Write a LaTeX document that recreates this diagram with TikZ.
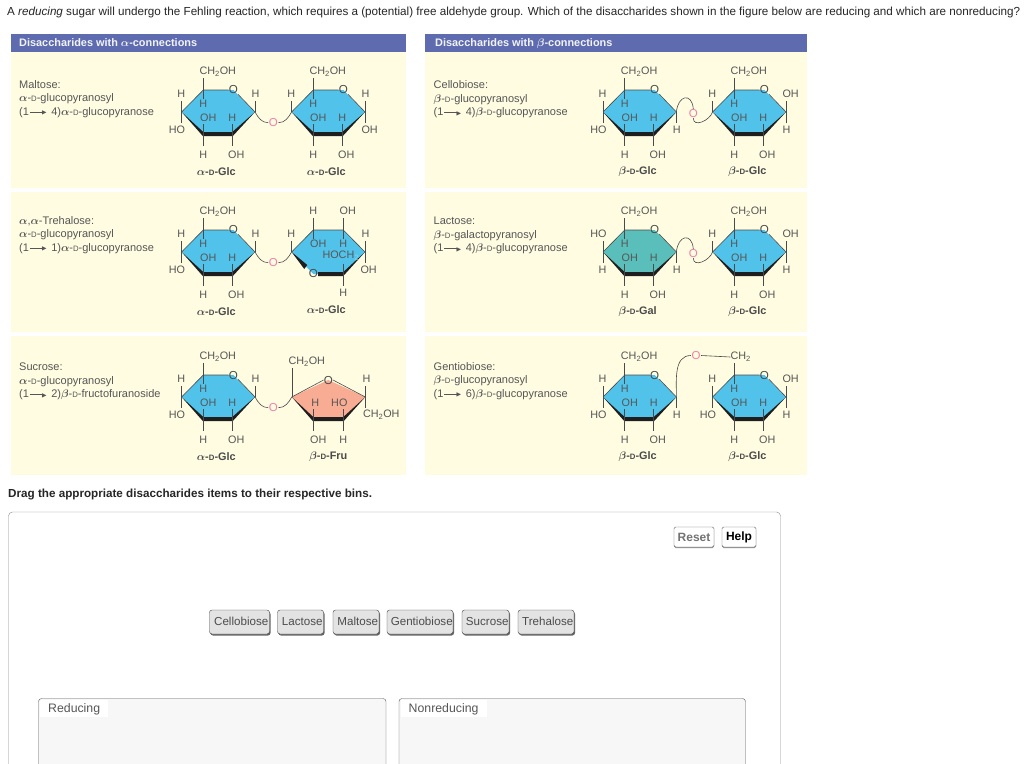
\documentclass[tikz,border=0pt]{standalone}
\usepackage{amsmath, amssymb}
\usepackage{xcolor}
\usepackage{fontspec}
\setmainfont{Liberation Sans}
\usepackage{tikz}
\usetikzlibrary{shadows}
\definecolor{panelyellow}{HTML}{FFFCE1}
\definecolor{headblue}{HTML}{5E6CAF}
\definecolor{glcblue}{HTML}{51C3EB}
\definecolor{galteal}{HTML}{5ABFBA}
\definecolor{frusalmon}{HTML}{F8AC93}
\definecolor{linkpink}{HTML}{F07FA8}
\definecolor{bondgrey}{HTML}{4A4A4A}
\definecolor{labelgrey}{HTML}{565656}
\newcommand{\smallD}{{\fontsize{7.8}{9}\selectfont D}}
\newcommand{\chainCH}{CH\textsubscript{2}}
\newcommand{\chainOH}{CH\textsubscript{2}OH}
\newcommand{\alphaL}{{\boldmath$\alpha$}}
\newcommand{\betaL}{{\boldmath$\beta$}}
\newcommand{\bondarrow}{\kern1pt\rule[3pt]{14pt}{0.7pt}\kern-2.5pt\raisebox{0.5pt}{\fontsize{6.5}{6.5}\selectfont$\blacktriangleright$}\kern4pt}
\newcommand{\sidelabel}[5]{\if\relax\detokenize{#5}\relax\else
	\draw[bond] (#1) -- ++(0,#2);
	\node at (#3) (#1x) [atom, anchor=#4] {#5};\fi}
\newcommand{\sugarring}[9]{
	\begin{scope}[shift={(#2)}]
		\coordinate (#1l) at (-36.7,0);
		\coordinate (#1tl) at (-15,-22);
		\coordinate (#1r) at (36.7,0);
		\coordinate (#1br) at (14,22);
		\coordinate (#1bl) at (-15,22);
		\fill[#3] (#1l) -- (#1tl) -- (15,-22) -- (#1r) -- (#1br) -- (#1bl) -- cycle;
		\node at (15,-22) (#1o) [ringo] {O};
		\draw[bond] (#1l) -- (#1tl) -- (#1o.west);
		\draw[bond] (#1o.south east) -- (#1r);
		\fill[bondgrey!40!black] (#1l) -- (-15.5,24) -- (14.5,24) -- (#1r) -- (14,20) -- (-15,20) -- cycle;
		\draw[bond] (#1tl) -- ++(0,-12);
		\draw[bond] (#1tl) -- ++(0,9);
		\draw[bond] (#1bl) -- ++(0,-10);
		\draw[bond] (#1bl) -- ++(0,12);
		\draw[bond] (#1br) -- ++(0,-10);
		\draw[bond] (#1br) -- ++(0,12);
		\sidelabel{#1l}{-11}{-33,-18}{east}{#4}
		\sidelabel{#1l}{11}{-33,18}{east}{#5}
		\sidelabel{#1r}{-11}{33,-18}{west}{#6}
		\sidelabel{#1r}{11}{33,18}{west}{#7}
		\node at (-19,-40) (#1top) [atom, anchor=west] {#9};
		\node at (-15,-8) (#1ih) [atom] {H};
		\node at (-10,5.7) (#1ioh) [atom] {OH};
		\node at (14,5.7) (#1jh) [atom] {H};
		\node at (-15,43) (#1bh) [atom] {H};
		\node at (18,43) (#1boh) [atom] {OH};
		\node at (-2,59.5) (#1name) [caption] {#8};
	\end{scope}
}
\begin{document}
\begin{tikzpicture}[x=1pt,
				y=-1pt,
				panel/.style={fill=panelyellow},
				head/.style={fill=headblue},
				headtext/.style={anchor=west, inner sep=0pt, text height=8pt, text depth=2pt, font=\fontsize{10.9}{12}\selectfont\bfseries, text=white!92!headblue},
				sugartext/.style={anchor=west, align=left, inner sep=0pt, text=labelgrey, font=\fontsize{11}{13.4}\selectfont},
				bond/.style={draw=bondgrey, line width=0.6pt},
				atom/.style={inner sep=0pt, text=labelgrey, font=\fontsize{10.8}{12}\selectfont},
				ringo/.style={inner sep=0pt, text=bondgrey, font=\fontsize{11.6}{12}\selectfont},
				caption/.style={inner sep=0pt, text=bondgrey, font=\fontsize{10.9}{12}\selectfont\bfseries},
				linko/.style={inner sep=0.4pt, text=linkpink, font=\fontsize{11.5}{12}\selectfont},
				itembox/.style={draw=black!75, fill=black!11, rounded corners=2.5pt, minimum height=24pt, inner sep=0pt, text height=9pt, text depth=2.5pt, text=black!70, font=\fontsize{11.6}{13}\selectfont, execute at begin node=\hspace*{3.5pt}, drop shadow={shadow xshift=1pt, shadow yshift=-1.5pt, fill=black!60, opacity=1}},
				toolbox/.style={draw=black!60, fill=white, rounded corners=1.5pt, minimum height=20pt, inner sep=0pt, font=\fontsize{12}{14}\selectfont\bfseries, drop shadow={shadow xshift=0pt, shadow yshift=-1pt, fill=black!45, opacity=1}},
				binbox/.style={draw=black!65, fill=black!3, rounded corners=3pt},
				bintext/.style={anchor=north west, inner ysep=2.5pt, inner xsep=0pt, text=labelgrey, font=\fontsize{12.3}{14}\selectfont}]
	\useasboundingbox (0,0) rectangle (1024,763);
	\clip (0,0) rectangle (1024,763);
	\fill[white] (0,0) rectangle (1024,763);
	\node at (7,12) (intro) [anchor=west, inner sep=0pt, text=black!85, font=\fontsize{11.67}{13}\selectfont] {A \textit{reducing} sugar will undergo the Fehling reaction, which requires a (potential) free aldehyde group. Which of the disaccharides shown in the figure below are reducing and which are nonreducing?};
	\foreach \xa/\xb in {11/406, 425/807} {
		\fill[head] (\xa,34) rectangle (\xb,52);
		\fill[panel] (\xa,52) rectangle (\xb,188);
		\fill[panel] (\xa,192) rectangle (\xb,332);
		\fill[panel] (\xa,336) rectangle (\xb,475);
	}
	\node at (19,43.5) (heada) [headtext] {Disaccharides with \alphaL-connections};
	\node at (435,43.5) (headb) [headtext] {Disaccharides with \betaL-connections};
	\node at (19,99) (maltose) [sugartext] {Maltose:\\\alphaL-\smallD-glucopyranosyl\\(1\bondarrow4)\alphaL-\smallD-glucopyranose};
	\node at (19,235) (trehalose) [sugartext] {\alphaL,\alphaL-Trehalose:\\\alphaL-\smallD-glucopyranosyl\\(1\bondarrow1)\alphaL-\smallD-glucopyranose};
	\node at (19,381.5) (sucrose) [sugartext] {Sucrose:\\\alphaL-\smallD-glucopyranosyl\\(1\bondarrow2)\betaL-\smallD-fructofuranoside};
	\node at (433.5,99.5) (cellobiose) [sugartext] {Cellobiose:\\\betaL-\smallD-glucopyranosyl\\(1\bondarrow4)\betaL-\smallD-glucopyranose};
	\node at (433.5,235.5) (lactose) [sugartext] {Lactose:\\\betaL-\smallD-galactopyranosyl\\(1\bondarrow4)\betaL-\smallD-glucopyranose};
	\node at (433.5,381) (gentiobiose) [sugartext] {Gentiobiose:\\\betaL-\smallD-glucopyranosyl\\(1\bondarrow6)\betaL-\smallD-glucopyranose};
	\sugarring{ma}{218.3,112}{glcblue}{H}{HO}{H}{}{\alphaL-\smallD-Glc}{\chainOH}
	\sugarring{mb}{328.3,112}{glcblue}{H}{}{H}{OH}{\alphaL-\smallD-Glc}{\chainOH}
	\node at (273.3,122.7) (mo) [linko] {O};
	\draw[bond] (mar) to [out=-60,in=180] (mo.west);
	\draw[bond] (mo.east) to [out=0,in=-120] (mbl);
	\sugarring{ta}{218.3,252}{glcblue}{H}{HO}{H}{}{\alphaL-\smallD-Glc}{\chainOH}
	\begin{scope}[shift={(328.3,252)}]
		\coordinate (tbl) at (-36.7,0);
		\coordinate (tbtl) at (-15,-22);
		\coordinate (tbtr) at (15,-22);
		\coordinate (tbr) at (36.7,0);
		\coordinate (tbbr) at (15,22);
		\fill[glcblue] (tbl) -- (tbtl) -- (tbtr) -- (tbr) -- (tbbr) -- (-15,22) -- cycle;
		\node at (-15,22) (tbo) [ringo] {O};
		\draw[bond] (tbl) -- (tbtl) -- (tbtr) -- (tbr);
		\fill[bondgrey!40!black] (tbl) -- (-21,13) -- (-24,17) -- cycle;
		\fill[bondgrey!40!black] (tbo.east) ++(0,-2) -- ++(0,4) -- (15,24) -- (tbr) -- (15,20) -- cycle;
		\draw[bond] (tbtl) -- ++(0,-12);
		\draw[bond] (tbtl) -- ++(0,9);
		\draw[bond] (tbtr) -- ++(0,-12);
		\draw[bond] (tbtr) -- ++(0,9);
		\draw[bond] (tbbr) -- ++(0,-10);
		\draw[bond] (tbbr) -- ++(0,12);
		\sidelabel{tbl}{-11}{-33,-18}{east}{H}
		\sidelabel{tbr}{-11}{33,-18}{west}{H}
		\sidelabel{tbr}{11}{32,18}{west}{OH}
		\node at (-15,-41) (tbth) [atom] {H};
		\node at (19.5,-41) (tbtoh) [atom] {OH};
		\node at (-10,-8) (tbioh) [atom] {OH};
		\node at (15,-8) (tbih) [atom] {H};
		\node at (-6,4) (tbhoch) [atom, anchor=west] {HOCH\textsubscript{\textcolor{glcblue!70!white}{2}}};
		\node at (15,41) (tbbh) [atom] {H};
		\node at (-2,58) (tbname) [caption] {\alphaL-\smallD-Glc};
	\end{scope}
	\node at (273.3,262.7) (to) [linko] {O};
	\draw[bond] (tar) to [out=-60,in=180] (to.west);
	\draw[bond] (to.east) to [out=0,in=-120] (tbl);
	\sugarring{sa}{218.3,397}{glcblue}{H}{HO}{H}{}{\alphaL-\smallD-Glc}{\chainOH}
	\begin{scope}[shift={(328.3,397)}]
		\coordinate (sbl) at (-36.5,0);
		\coordinate (sbr) at (37,0);
		\coordinate (sbbr) at (15,22);
		\coordinate (sbbl) at (-15,22);
		\fill[frusalmon] (sbl) -- (0,-17) -- (sbr) -- (sbbr) -- (sbbl) -- cycle;
		\node at (0,-17) (sbo) [ringo] {O};
		\draw[bond] (sbl) -- (sbo.west);
		\draw[bond] (sbo.east) -- (sbr);
		\fill[bondgrey!40!black] (sbl) -- (-15.5,24) -- (15.5,24) -- (sbr) -- (15,20) -- (-15,20) -- cycle;
		\draw[bond] (sbl) -- ++(0,-29);
		\draw[bond] (sbbl) -- ++(0,-10);
		\draw[bond] (sbbl) -- ++(0,12);
		\draw[bond] (sbbr) -- ++(0,-10);
		\draw[bond] (sbbr) -- ++(0,12);
		\sidelabel{sbr}{-11}{34,-18}{west}{H}
		\sidelabel{sbr}{11}{34.5,17.5}{west}{\chainOH}
		\node at (-40,-35) (sbtop) [atom, anchor=west] {\chainOH};
		\node at (-13,5.6) (sbih) [atom] {H};
		\node at (11,5.6) (sbiho) [atom] {HO};
		\node at (-10,42.5) (sbboh) [atom] {OH};
		\node at (15,42.5) (sbbh) [atom] {H};
		\node at (0,59.5) (sbname) [caption] {\betaL-\smallD-Fru};
	\end{scope}
	\node at (273.3,407.7) (so) [linko] {O};
	\draw[bond] (sar) to [out=-60,in=180] (so.west);
	\draw[bond] (so.east) to [out=0,in=-120] (sbl);
	\sugarring{ca}{639.7,112}{glcblue}{H}{HO}{}{H}{\betaL-\smallD-Glc}{\chainOH}
	\sugarring{cb}{749.3,112}{glcblue}{H}{}{OH}{H}{\betaL-\smallD-Glc}{\chainOH}
	\node at (693.3,113.5) (co) [linko] {O};
	\draw[bond] (car) to [out=85,in=95,looseness=2.5] (co.north);
	\draw[bond] (co.south) to [out=-90,in=-110,looseness=1.2] (cbl);
	\sugarring{la}{639.7,252}{galteal}{HO}{H}{}{H}{\betaL-\smallD-Gal}{\chainOH}
	\sugarring{lb}{749.3,252}{glcblue}{H}{}{OH}{H}{\betaL-\smallD-Glc}{\chainOH}
	\node at (693.3,253.5) (lo) [linko] {O};
	\draw[bond] (lar) to [out=85,in=95,looseness=2.5] (lo.north);
	\draw[bond] (lo.south) to [out=-90,in=-110,looseness=1.2] (lbl);
	\sugarring{ga}{639.7,397}{glcblue}{H}{HO}{}{H}{\betaL-\smallD-Glc}{\chainOH}
	\sugarring{gb}{749.3,397}{glcblue}{H}{HO}{OH}{H}{\betaL-\smallD-Glc}{\chainCH}
	\node at (696,355.5) (go) [linko] {O};
	\draw[bond] (gar) to [out=90,in=180] (go.west);
	\draw[bond] (go.east) -- (gbtop.west);
	\node at (8,494.5) (drag) [anchor=west, inner sep=0pt, text=black!85, font=\fontsize{11.67}{13}\selectfont\bfseries] {Drag the appropriate disaccharides items to their respective bins.};
	\draw[draw=black!45, fill=white, rounded corners=4pt] (8.5,512) rectangle (780.5,790);
	\node at (694,537) (reset) [toolbox, minimum width=40pt, text=black!55] {Reset};
	\node at (739,537) (help) [toolbox, minimum width=34pt] {Help};
	\node at (239.5,622) (itcello) [itembox, minimum width=60pt] {Cellobiose};
	\node at (300.5,622) (itlact) [itembox, minimum width=46pt] {Lactose};
	\node at (356,622) (itmalt) [itembox, minimum width=46pt] {Maltose};
	\node at (420,622) (itgent) [itembox, minimum width=66pt] {Gentiobiose};
	\node at (485.5,622) (itsucr) [itembox, minimum width=47pt] {Sucrose};
	\node at (546,622) (ittreh) [itembox, minimum width=56pt] {Trehalose};
	\draw[binbox] (38.5,698.5) rectangle (386,790);
	\draw[binbox] (399,698.5) rectangle (745.5,790);
	\fill[white] (40,700) rectangle (108,717);
	\fill[white] (401,700) rectangle (487,717);
	\node at (48,701) (reducing) [bintext] {Reducing};
	\node at (408.5,701) (nonreducing) [bintext] {Nonreducing};
\end{tikzpicture}
\end{document}
